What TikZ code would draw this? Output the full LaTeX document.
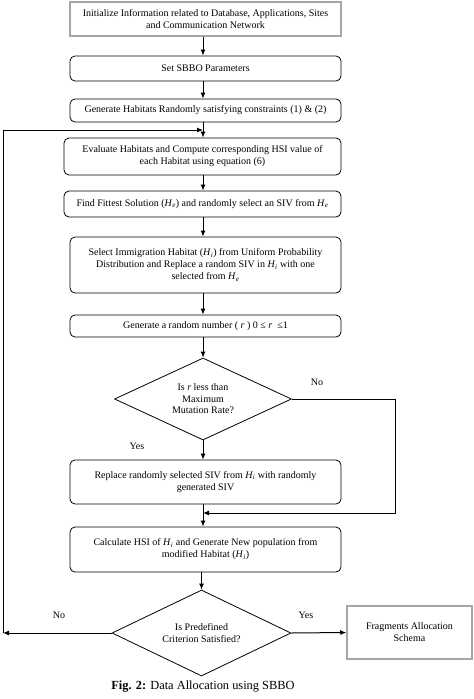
\documentclass[tikz,border=0pt]{standalone}
\usepackage{fontspec}
\setmainfont{Liberation Serif}
\usetikzlibrary{positioning, shapes, arrows, arrows.meta}
\tikzset{
	process/.style={rectangle, rounded corners=5pt, draw=black, line width=.8pt, align=center, inner sep=2pt, font=\fontsize{10}{12}\selectfont},
	processGray/.style={process, sharp corners, draw=gray!70, line width=1.5pt},
	decision/.style={diamond, aspect=2.2, draw=black, line width=.8pt, align=center, inner sep=0pt, font=\fontsize{10}{11.5}\selectfont},
	flowline/.style={line width=1pt},
	flowarrow/.style={line width=1pt, -{Latex[length=6pt,width=5pt]}},
%	flowarrow/.style={line width=1pt, -latex},
	branch/.style={font=\fontsize{10}{12}\selectfont}
}
\newcommand{\Hsub}[1]{\textit{H}\textsubscript{\textit{#1}}}

\begin{document}
\begin{tikzpicture}[x=1pt, y=-1pt]
\useasboundingbox (0,0) rectangle (474,699);

\node [processGray, minimum width=271pt, minimum height=34pt] (init) at (205.5,19)
  {Initialize Information related to Database, Applications, Sites\\and Communication Network};
\node [process, minimum width=271pt, minimum height=25pt] (params) at (205.5,68.5) {Set SBBO Parameters};
\node [process, minimum width=271pt, minimum height=23pt] (habitats) at (205.5,110.5)
  {Generate Habitats Randomly satisfying constraints (1) \& (2)};
\node [process, minimum width=277pt, minimum height=37pt] (evaluate) at (202.5,156.5)
  {Evaluate Habitats and Compute corresponding HSI value of\\each Habitat using equation (6)};
\node [process, minimum width=277pt, minimum height=26pt] (fittest) at (202.5,204)
  {Find Fittest Solution (\Hsub{e}) and randomly select an SIV from \Hsub{e}};
\node [process, minimum width=271pt, minimum height=56pt] (immig) at (205.5,265)
  {Select Immigration Habitat (\Hsub{i}) from Uniform Probability\\Distribution and Replace a random SIV in \Hsub{i} with one\\selected from \Hsub{e}};
\node [process, minimum width=271pt, minimum height=22pt] (random) at (205.5,326)
  {Generate a random number ( \textit{r} ) 0 ≤ \textit{r}\ \ ≤1};
\node [decision, minimum width=177pt, minimum height=82pt] (mutate) at (203,399)
  {Is \textit{r} less than\\Maximum\\Mutation Rate?};
\node [process, minimum width=271pt, minimum height=44pt] (replace) at (205.5,482)
  {Replace randomly selected SIV from \Hsub{i} with randomly\\generated SIV};
\node [process, minimum width=271pt, minimum height=45pt] (calc) at (205.5,549.5)
  {Calculate HSI of \Hsub{i} and Generate New population from\\modified Habitat (\Hsub{i})};
\node [decision, minimum width=179pt, minimum height=86pt] (stop) at (201.5,633)
  {Is Predefined\\Criterion Satisfied?};
\node [processGray, minimum width=125pt, minimum height=53pt] (alloc) at (409.5,632.5)
  {Fragments Allocation\\Schema};

\coordinate (loop) at (203,130);
\coordinate (back) at (3,633);
\coordinate (noTurn) at (395,399);
\coordinate (merge) at (203,513);

% main flow
\draw [flowarrow] (init.south -| mutate) -- (params.north -| mutate);
\draw [flowarrow] (params.south -| mutate) -- (habitats.north -| mutate);
\draw [flowarrow] (habitats.south -| mutate) -- (evaluate.north -| mutate);
\draw [flowarrow] (evaluate.south -| mutate) -- (fittest.north -| mutate);
\draw [flowarrow] (fittest.south -| mutate) -- (immig.north -| mutate);
\draw [flowarrow] (immig.south -| mutate) -- (random.north -| mutate);
\draw [flowarrow] (random.south -| mutate) -- (mutate.north);
\draw [flowarrow] (mutate.south) -- (replace.north -| mutate);
\draw [flowarrow] (replace.south -| mutate) -- (calc.north -| mutate);
\draw [flowarrow] (calc.south -| stop) -- (stop.north);
\draw [flowarrow] (stop.east) -- (alloc.west);

% branches
\draw [flowarrow] (mutate.east) -- (noTurn) |- (merge);
\draw [flowarrow] (stop.west) -- (back);
\draw [flowarrow] (back) |- (loop);

\node [branch] (noA) at (317,382) {No};
\node [branch] (yesA) at (137,446) {Yes};
\node [branch] (noB) at (59,615) {No};
\node [branch] (yesB) at (306,615) {Yes};

\node [font=\fontsize{12.4}{14}\selectfont] (caption) at (203,687)
  {\textbf{Fig. 2:} Data Allocation using SBBO};
\end{tikzpicture}
\end{document}
